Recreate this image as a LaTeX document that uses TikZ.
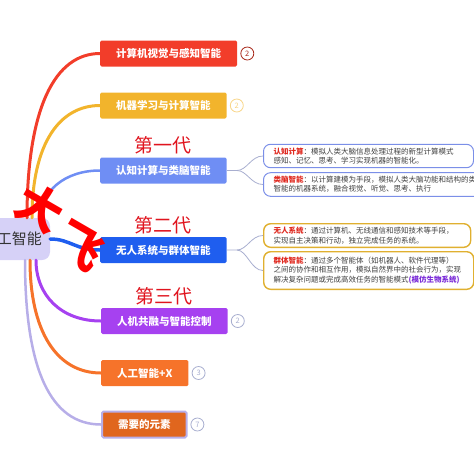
\documentclass[tikz,border=0pt]{standalone}
\usepackage{fontspec}
\setmainfont{Noto Sans CJK SC}
\usetikzlibrary{positioning}
\definecolor{cRed}{HTML}{F23D2A}
\definecolor{cYellow}{HTML}{F2B42C}
\definecolor{cBlueA}{HTML}{6F8EF4}
\definecolor{cBlueB}{HTML}{1F5EEF}
\definecolor{cPurple}{HTML}{A641F0}
\definecolor{cOrange}{HTML}{F6732A}
\definecolor{cDark}{HTML}{E0661E}
\definecolor{cLav}{HTML}{B7AEE8}
\definecolor{rootLav}{HTML}{D6D1F7}
\definecolor{genRed}{HTML}{E0141E}
\definecolor{lblRed}{HTML}{E02A20}
\definecolor{lblPurple}{HTML}{7A2BD8}
\definecolor{noteBlue}{HTML}{7B8FE8}
\definecolor{noteGold}{HTML}{E0B030}
\definecolor{forkGray}{HTML}{A8AECF}
\newcommand\lbl[1]{\textbf{\color{lblRed}#1}}
\begin{document}
\begin{tikzpicture}[x=1pt, y=-1pt,
	branch/.style={rectangle, rounded corners=1.5pt, text=white, font=\bfseries\fontsize{10.5}{12}\selectfont, inner xsep=16pt, minimum height=26pt, anchor=west},
	badge/.style={circle, draw, line width=0.8pt, minimum size=13pt, inner sep=0pt, font=\fontsize{7.5}{8}\selectfont},
	gen/.style={text=genRed, font=\fontsize{19}{20}\selectfont, inner sep=1pt},
	note/.style={draw, fill=white, line width=1pt, rounded corners=7pt, anchor=west, align=left, text width=190pt, inner xsep=10pt, inner ysep=3.5pt, font=\fontsize{7.5}{9.3}\selectfont, text=black!75},
	line/.style={line width=3pt, line cap=round},
	fork/.style={line width=0.8pt, draw=forkGray},
	scrawl/.style={rotate=-30, text=red, font=\bfseries\fontsize{46}{46}\selectfont, inner sep=0pt}]
	\useasboundingbox (0,0) rectangle (474,467);
	\clip (0,0) rectangle (474,467);
	\node (root) [fill=rootLav, rounded corners=8pt, minimum width=76pt, minimum height=42pt, font=\fontsize{15}{16}\selectfont, text=black!80] at (12,239) {人工智能};
	\node (n1) [branch, fill=cRed] at (100,53.5) {计算机视觉与感知智能};
	\node (n2) [branch, fill=cYellow] at (100,105.5) {机器学习与计算智能};
	\node (n3) [branch, fill=cBlueA] at (100,170.5) {认知计算与类脑智能};
	\node (n4) [branch, fill=cBlueB] at (100,250) {无人系统与群体智能};
	\node (n5) [branch, fill=cPurple] at (101,321) {人机共融与智能控制};
	\node (n6) [branch, fill=cOrange] at (101,373) {人工智能+X};
	\node (n7) [branch, fill=cDark, draw=cLav, line width=2pt] at (101,424.5) {需要的元素};
	% generations
	\node (g1) [gen, above=2pt of n3] {第一代};
	\node (g2) [gen, above=2pt of n4] {第二代};
	\node (g3) [gen, above=2pt of n5] {第三代};
	% counts
	\node (b1) [badge, draw=cRed!70!black, text=cRed!70!black, right=3pt of n1] {2};
	\node (b2) [badge, draw=cYellow!55, text=cYellow!60, right=3pt of n2] {2};
	\node (b5) [badge, draw=forkGray, text=forkGray, right=3pt of n5] {2};
	\node (b6) [badge, draw=forkGray, text=forkGray, right=3pt of n6] {3};
	\node (b7) [badge, draw=forkGray, text=forkGray, right=3pt of n7] {7};
	% notes
	\node (ka) [note, draw=noteBlue] at (263,156) {\lbl{认知计算}：模拟人类大脑信息处理过程的新型计算模式\\感知、记忆、思考、学习实现机器的智能化。};
	\node (kb) [note, draw=noteBlue, text width=220pt] at (263,184.5) {\lbl{类脑智能}：以计算建模为手段，模拟人类大脑功能和结构的类\\智能的机器系统，融合视觉、听觉、思考、执行};
	\node (kc) [note, draw=noteGold, line width=1.4pt, text width=187pt] at (263,235.5) {\lbl{无人系统}：通过计算机、无线通信和感知技术等手段，\\实现自主决策和行动，独立完成任务的系统。};
	\node (kd) [note, draw=noteGold, line width=1.4pt, inner ysep=5.5pt] at (263,270.5) {\lbl{群体智能}：通过多个智能体（如机器人、软件代理等）\\之间的协作和相互作用，模拟自然界中的社会行为，实现\\解决复杂问题或完成高效任务的智能模式\textbf{\color{lblPurple}(模仿生物系统)}};
	% branches
	\draw[line, cRed] ([xshift=15pt]root.north) .. controls +(0,-110) and +(-45,0) .. (n1.west);
	\draw[line, cYellow] ([xshift=20pt]root.north) .. controls +(0,-75) and +(-40,0) .. (n2.west);
	\draw[line, cBlueA, line width=2.5pt] ([xshift=28pt,yshift=-3pt]root.north) .. controls +(0,-30) and +(-35,0) .. (n3.west);
	\draw[line, cBlueB, line width=3.5pt] (root.east) .. controls +(20,0) and +(-25,0) .. (n4.west);
	\draw[line, cPurple] ([xshift=24pt]root.south) .. controls +(0,35) and +(-40,0) .. (n5.west);
	\draw[line, cOrange] ([xshift=18pt]root.south) .. controls +(0,70) and +(-45,0) .. (n6.west);
	\draw[line, cLav, line width=2.5pt] ([xshift=13pt]root.south) .. controls +(0,110) and +(-50,0) .. (n7.west);
	% forks
	\coordinate (f3) at ([xshift=10pt]n3.east);
	\coordinate (f4) at ([xshift=10pt]n4.east);
	\draw[fork] (n3.east) -- (f3) .. controls +(10,0) and +(-12,0) .. (ka.west);
	\draw[fork] (f3) .. controls +(10,0) and +(-12,0) .. (kb.west);
	\draw[fork] (n4.east) -- (f4) .. controls +(10,0) and +(-12,0) .. (kc.west);
	\draw[fork] (f4) .. controls +(10,0) and +(-12,0) .. (kd.west);
	% scrawl
	\node (wa) [scrawl] at (40,208) {大};
	\node (wb) [scrawl] at (80,246) {飞};
\end{tikzpicture}
\end{document}
